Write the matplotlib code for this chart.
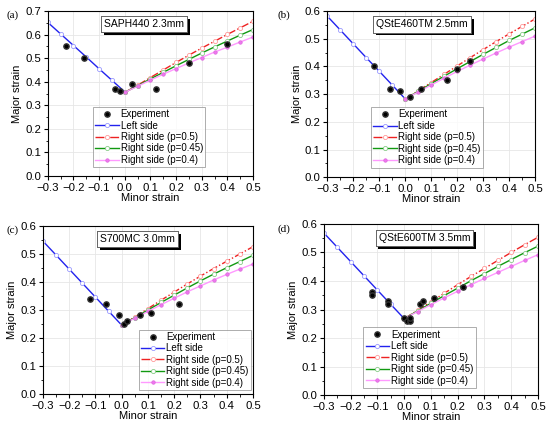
import matplotlib
matplotlib.use("Agg")
import matplotlib.pyplot as plt
import matplotlib.patheffects as pe
from matplotlib.ticker import MultipleLocator

plt.rcParams['font.family'] = ['Liberation Sans', 'DejaVu Sans']

# 数据
x_left = [-0.3, -0.25, -0.2, -0.15, -0.1, -0.05, 0.0]
x_right = [0.0, 0.05, 0.1, 0.15, 0.2, 0.25, 0.3, 0.35, 0.4, 0.45, 0.5]

titles = ['SAPH440 2.3mm', 'QStE460TM 2.5mm', 'S700MC 3.0mm', 'QStE600TM 3.5mm']
panel_tags = ['(a)', '(b)', '(c)', '(d)']
y_max = [0.7, 0.6, 0.6, 0.6]

left_a = [0.652, 0.603, 0.554, 0.505, 0.455, 0.406, 0.357]
left_b = [0.582, 0.532, 0.482, 0.432, 0.383, 0.333, 0.283]
left_c = [0.545, 0.495, 0.445, 0.395, 0.345, 0.295, 0.245]
left_d = [0.568, 0.518, 0.468, 0.418, 0.368, 0.318, 0.268]

p50_a = [0.355, 0.385, 0.418, 0.450, 0.482, 0.513, 0.543, 0.572, 0.601, 0.629, 0.657]
p45_a = [0.355, 0.383, 0.412, 0.440, 0.468, 0.495, 0.522, 0.548, 0.573, 0.598, 0.622]
p40_a = [0.355, 0.381, 0.407, 0.432, 0.456, 0.480, 0.503, 0.526, 0.547, 0.569, 0.590]

p50_b = [0.283, 0.312, 0.342, 0.372, 0.402, 0.432, 0.461, 0.490, 0.518, 0.545, 0.572]
p45_b = [0.283, 0.310, 0.338, 0.365, 0.392, 0.418, 0.444, 0.469, 0.494, 0.517, 0.540]
p40_b = [0.283, 0.308, 0.333, 0.358, 0.382, 0.405, 0.427, 0.449, 0.470, 0.490, 0.510]

p50_c = [0.245, 0.274, 0.304, 0.334, 0.363, 0.392, 0.420, 0.447, 0.473, 0.499, 0.525]
p45_c = [0.245, 0.272, 0.299, 0.326, 0.352, 0.378, 0.403, 0.427, 0.450, 0.472, 0.494]
p40_c = [0.245, 0.270, 0.294, 0.318, 0.341, 0.364, 0.385, 0.406, 0.426, 0.445, 0.463]

p50_d = [0.268, 0.297, 0.327, 0.357, 0.387, 0.416, 0.444, 0.472, 0.500, 0.527, 0.553]
p45_d = [0.268, 0.295, 0.322, 0.349, 0.375, 0.401, 0.426, 0.451, 0.475, 0.499, 0.522]
p40_d = [0.268, 0.293, 0.317, 0.341, 0.364, 0.387, 0.409, 0.430, 0.451, 0.472, 0.492]

exp_x_a = [-0.23, -0.16, -0.04, -0.02, 0.03, 0.12, 0.25, 0.40]
exp_y_a = [0.55, 0.50, 0.37, 0.36, 0.39, 0.37, 0.48, 0.56]
exp_x_b = [-0.12, -0.06, -0.02, 0.02, 0.06, 0.16, 0.20, 0.25]
exp_y_b = [0.40, 0.32, 0.31, 0.29, 0.32, 0.35, 0.39, 0.42]
exp_x_c = [-0.12, -0.06, -0.01, 0.01, 0.02, 0.07, 0.11, 0.22]
exp_y_c = [0.34, 0.32, 0.28, 0.25, 0.26, 0.28, 0.29, 0.32]
exp_x_d = [-0.12, -0.12, -0.06, -0.06, 0.0, 0.01, 0.02, 0.02, 0.06, 0.07, 0.11, 0.22]
exp_y_d = [0.36, 0.35, 0.33, 0.32, 0.27, 0.26, 0.26, 0.27, 0.32, 0.33, 0.34, 0.38]

lefts = [left_a, left_b, left_c, left_d]
p50s = [p50_a, p50_b, p50_c, p50_d]
p45s = [p45_a, p45_b, p45_c, p45_d]
p40s = [p40_a, p40_b, p40_c, p40_d]
exp_xs = [exp_x_a, exp_x_b, exp_x_c, exp_x_d]
exp_ys = [exp_y_a, exp_y_b, exp_y_c, exp_y_d]

# 布局
axes_pos = [
    [0.087, 0.590, 0.373, 0.384],
    [0.595, 0.587, 0.378, 0.387],
    [0.078, 0.082, 0.382, 0.392],
    [0.589, 0.079, 0.389, 0.399],
]
title_pos = [(0.47, 0.92), (0.457, 0.92), (0.45, 0.92), (0.47, 0.92)]
legend_loc = [
    ('lower left', (0.21, 0.04)),
    ('lower left', (0.20, 0.045)),
    ('lower right', (1.0, 0.01)),
    ('lower left', (0.175, 0.03)),
]
tag_pos = [(0.012, 0.965), (0.505, 0.965), (0.012, 0.463), (0.505, 0.466)]

fig = plt.figure(figsize=(5.5, 4.29), dpi=100)

for i in range(4):
    ax = fig.add_axes(axes_pos[i])
    ax.grid(True, color='#e6e6e6', linewidth=0.6)
    ax.set_axisbelow(True)

    ax.plot(exp_xs[i], exp_ys[i], 'o', color='black', markersize=3.8,
            markeredgecolor='#333333', label='Experiment', zorder=5)
    ax.plot(x_left, lefts[i], '-', color='#2222ee', linewidth=1,
            marker='o', markersize=3, markerfacecolor='white',
            markeredgecolor='#9999ff', markeredgewidth=0.6, label='Left side')
    ax.plot(x_right, p50s[i], '-.', color='#ee2222', linewidth=1,
            marker='o', markersize=3, markerfacecolor='white',
            markeredgecolor='#ff9999', markeredgewidth=0.6, label='Right side (p=0.5)')
    ax.plot(x_right, p45s[i], '-', color='#119911', linewidth=1,
            marker='o', markersize=3, markerfacecolor='white',
            markeredgecolor='#88cc88', markeredgewidth=0.6, label='Right side (p=0.45)')
    ax.plot(x_right, p40s[i], '-', color='#ff99ff', linewidth=1,
            marker='o', markersize=2.5, markerfacecolor='#ee77ee',
            markeredgecolor='#dd66dd', markeredgewidth=0.5, label='Right side (p=0.4)')

    ax.set_xlim(-0.3, 0.5)
    ax.set_ylim(0, y_max[i])
    ax.xaxis.set_major_locator(MultipleLocator(0.1))
    ax.xaxis.set_minor_locator(MultipleLocator(0.05))
    ax.yaxis.set_major_locator(MultipleLocator(0.1))
    ax.yaxis.set_minor_locator(MultipleLocator(0.05))
    ax.set_xticklabels([f'{v:.1f}'.replace('-', '\u2212') for v in ax.get_xticks()])
    ax.tick_params(which='both', direction='out', labelsize=8.2, pad=2)
    ax.tick_params(which='major', length=3, width=0.8)
    ax.tick_params(which='minor', length=1.8, width=0.6)
    for s in ax.spines.values():
        s.set_linewidth(0.8)
    ax.set_xlabel('Minor strain', fontsize=8, labelpad=0)
    ax.set_ylabel('Major strain', fontsize=8, labelpad=2)

    loc, anchor = legend_loc[i]
    leg = ax.legend(loc=loc, bbox_to_anchor=anchor, fontsize=7, frameon=True,
                    fancybox=False, edgecolor='#888888', handlelength=2.4,
                    handletextpad=0.2, borderpad=0.25, labelspacing=0.15,
                    borderaxespad=0.2)
    leg.get_frame().set_linewidth(0.6)

    t = ax.text(title_pos[i][0], title_pos[i][1], titles[i], transform=ax.transAxes,
                ha='center', va='center', fontsize=7.5, zorder=10,
                bbox=dict(boxstyle='square,pad=0.3', facecolor='white',
                          edgecolor='#444444', linewidth=0.5))
    t.get_bbox_patch().set_path_effects([
        pe.withSimplePatchShadow(offset=(2, -2), shadow_rgbFace='black', alpha=1),
        pe.Normal()])

    fig.text(tag_pos[i][0], tag_pos[i][1], panel_tags[i], fontsize=8,
             family='Liberation Serif', ha='left', va='center')

fig.savefig('out.png', dpi=100)
